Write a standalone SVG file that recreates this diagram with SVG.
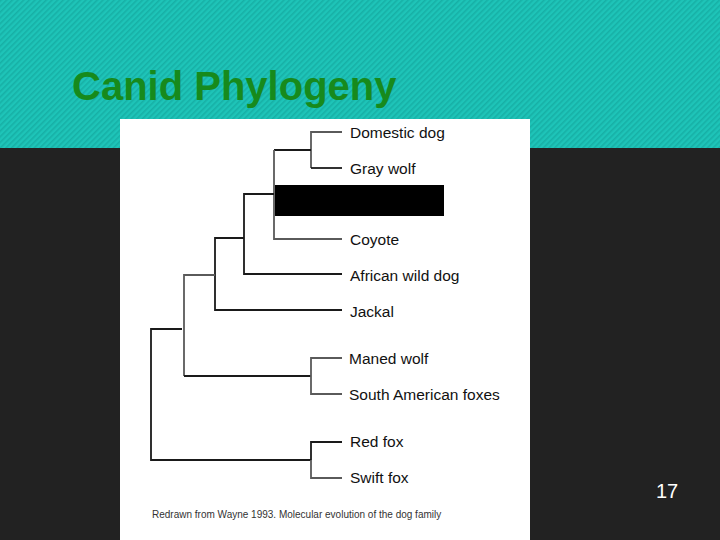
<svg xmlns="http://www.w3.org/2000/svg" width="720" height="540" viewBox="0 0 720 540">
  <defs>
    <pattern id="stripes" width="4" height="4" patternUnits="userSpaceOnUse" patternTransform="rotate(45)">
      <rect width="4" height="4" fill="#1ec4b8"/>
      <rect width="1.6" height="4" fill="#17b0a6"/>
    </pattern>
    <style>
      .lbl { font-family: "Liberation Sans", Arial, sans-serif; font-size: 15.5px; fill: #111; }
      .dk { stroke: #1a1a1a; stroke-width: 1.8; fill: none; }
      .lt { stroke: #5a5a5a; stroke-width: 1.8; fill: none; }
    </style>
  </defs>
  <rect x="0" y="0" width="720" height="540" fill="#222222"/>
  <rect x="0" y="0" width="720" height="148" fill="url(#stripes)"/>
  <text x="72" y="100" font-family="'Liberation Sans', Arial, sans-serif" font-size="40" font-weight="bold" fill="#178a1c">Canid Phylogeny</text>
  <rect x="120" y="119" width="410" height="421" fill="#ffffff"/>

  <g id="connectors">
    <path class="lt" d="M342 132 H311 V168"/>
    <path class="dk" d="M311 168 H342"/>
    <path class="dk" d="M311 150 H274"/>
    <path class="lt" d="M274 150 V239 H342"/>
    <path class="dk" d="M274 194 H244 V274 H342"/>
    <path class="dk" d="M244 238 H215 V310 H342"/>
    <path class="lt" d="M215 275 H184 V376"/>
    <path class="dk" d="M184 376 H311"/>
    <path class="lt" d="M342 358 H311 V394 H342"/>
    <path class="dk" d="M182 329 H151 V460 H311"/>
    <path class="dk" d="M342 442 H311 V460"/>
    <path class="lt" d="M311 460 V478 H342"/>
  </g>

  <g id="node-domestic-dog"><text class="lbl" x="350" y="138">Domestic dog</text></g>
  <g id="node-gray-wolf"><text class="lbl" x="350" y="174">Gray wolf</text></g>
  <g id="redaction"><rect x="275" y="185" width="169" height="31" fill="#000000"/></g>
  <g id="node-coyote"><text class="lbl" x="350" y="245">Coyote</text></g>
  <g id="node-african-wild-dog"><text class="lbl" x="350" y="281">African wild dog</text></g>
  <g id="node-jackal"><text class="lbl" x="350" y="317">Jackal</text></g>
  <g id="node-maned-wolf"><text class="lbl" x="349" y="364">Maned wolf</text></g>
  <g id="node-south-american-foxes"><text class="lbl" x="349" y="400">South American foxes</text></g>
  <g id="node-red-fox"><text class="lbl" x="350" y="447">Red fox</text></g>
  <g id="node-swift-fox"><text class="lbl" x="350" y="483">Swift fox</text></g>

  <text x="152" y="518" font-family="'Liberation Sans', Arial, sans-serif" font-size="10" fill="#333">Redrawn from Wayne 1993.  Molecular evolution of the dog family</text>
  <text x="656" y="498" font-family="'Liberation Sans', Arial, sans-serif" font-size="20" fill="#ffffff">17</text>
</svg>
